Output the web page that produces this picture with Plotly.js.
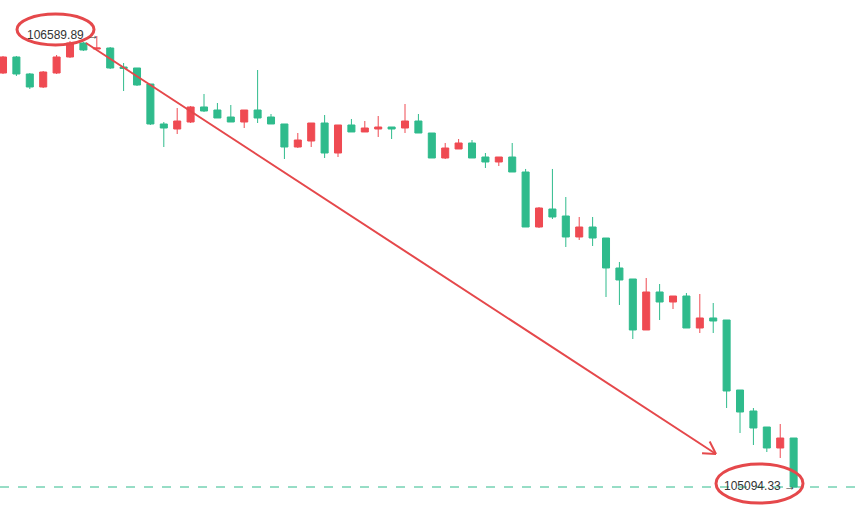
<!DOCTYPE html>
<html>
<head>
<meta charset="utf-8">
<script src="https://cdn.plot.ly/plotly-3.0.1.min.js"></script>
<style>html,body{margin:0;padding:0;background:#fff;}#chart{width:857px;height:511px;}</style>
</head>
<body>
<div id="chart"></div>
<script>
// Candle index (time order)
const idx = Array.from({length: 60}, (_, i) => i);

const openP = [
  106467.2,106520.3,106463.9,106420.8,106467.2,106520.3,106566.7,106546.8,106550.1,106487.1,
  106483.8,106430.7,106298.1,106281.5,106304.7,106354.5,106344.5,106321.3,106304.7,106344.5,
  106321.3,106298.1,106221.8,106241.7,106301.4,106201.9,106294.8,106271.6,106281.5,106288.1,
  106284.8,106308.0,106268.2,106185.3,106215.2,106235.1,106188.6,106172.1,106188.6,106138.9,
  105956.5,106016.2,105993.0,105923.4,105956.5,105920.0,105820.6,105784.1,105615.0,105741.0,
  105707.8,105727.7,105621.6,105654.8,105648.1,105416.0,105346.4,105293.3,105223.7,105256.8
];
const highP = [
  106523.6,106523.6,106467.2,106473.8,106526.9,106573.3,106570.0,106589.89,106553.4,106500.4,
  106483.8,106430.7,106304.7,106351.1,106357.8,106397.6,106367.7,106361.1,106344.5,106477.1,
  106331.2,106298.1,106268.2,106301.4,106327.9,106294.8,106314.7,106308.0,106324.6,106288.1,
  106364.4,106331.2,106268.2,106235.1,106248.3,106245.0,106201.9,106188.6,106235.1,106148.9,
  106022.8,106148.9,106056.0,105989.7,105989.7,105920.0,105840.5,105784.1,105787.4,105767.5,
  105727.7,105737.7,105734.3,105704.5,105648.1,105416.0,105356.3,105293.3,105303.2,105256.8
];
const lowP = [
  106463.9,106457.3,106414.1,106417.5,106463.9,106517.0,106540.2,106546.8,106480.5,106407.5,
  106424.1,106294.8,106221.8,106264.9,106301.4,106337.9,106318.0,106304.7,106284.8,106301.4,
  106298.1,106182.0,106218.5,106221.8,106185.3,106188.6,106271.6,106271.6,106255.0,106248.3,
  106268.2,106268.2,106185.3,106182.0,106215.2,106185.3,106152.2,106158.8,106138.9,105956.5,
  105953.2,105983.0,105890.2,105913.4,105893.5,105724.4,105697.9,105585.1,105615.0,105648.1,
  105684.6,105621.6,105605.0,105605.0,105356.3,105273.4,105233.6,105210.4,105190.5,105094.33
];
const closeP = [
  106520.3,106463.9,106420.8,106470.5,106520.3,106566.7,106543.5,106550.1,106483.8,106482.1,
  106427.4,106298.1,106284.8,106308.0,106354.5,106341.2,106318.0,106304.7,106344.5,106318.0,
  106298.1,106221.8,106245.0,106301.4,106201.9,106294.8,106271.6,106284.8,106288.1,106281.5,
  106308.0,106268.2,106185.3,106218.5,106235.1,106185.3,106172.1,106188.6,106138.9,105956.5,
  106019.5,105989.7,105923.4,105956.5,105920.0,105820.6,105780.8,105615.0,105741.0,105707.8,
  105727.7,105621.6,105654.8,105644.8,105412.7,105343.0,105290.0,105223.7,105256.8,105094.33
];

const highLabel = "106589.89";
const lastLabel = "105094.33";
const lastClose = 105094.33;

const W = 857, H = 511;
const UP = '#ef4a52', DOWN = '#2fbb8c', MARK = '#e5484b';
const px = x => x / W;
const py = y => 1 - y / H;

// open V arrow head from (x0,y0) to (x1,y1) in pixel space
function arrowShapes(x0, y0, x1, y1) {
  const dx = x1 - x0, dy = y1 - y0, L = Math.hypot(dx, dy);
  const ux = -dx / L, uy = -dy / L, a = Math.PI / 6, len = 14;
  const out = [{type:'line', xref:'paper', yref:'paper', x0:px(x0), y0:py(y0), x1:px(x1), y1:py(y1), line:{color:MARK, width:2}}];
  [a, -a].forEach(t => {
    const rx = ux * Math.cos(t) - uy * Math.sin(t);
    const ry = ux * Math.sin(t) + uy * Math.cos(t);
    out.push({type:'line', xref:'paper', yref:'paper', x0:px(x1), y0:py(y1), x1:px(x1 + rx*len), y1:py(y1 + ry*len), line:{color:MARK, width:2}});
  });
  return out;
}

const trace = {
  type: 'candlestick',
  x: idx, open: openP, high: highP, low: lowP, close: closeP,
  increasing: {line: {color: UP, width: 1}, fillcolor: UP},
  decreasing: {line: {color: DOWN, width: 1}, fillcolor: DOWN},
  whiskerwidth: 0,
  hoverinfo: 'none'
};

const shapes = [
  {type:'line', xref:'paper', yref:'y', x0:0, x1:1, y0:lastClose, y1:lastClose, line:{color:DOWN, width:1, dash:'dash'}},
  {type:'circle', xref:'paper', yref:'paper', x0:px(17), x1:px(94), y0:py(14), y1:py(45), line:{color:MARK, width:3}},
  {type:'circle', xref:'paper', yref:'paper', x0:px(716), x1:px(803), y0:py(464), y1:py(503), line:{color:MARK, width:3}}
].concat(arrowShapes(86, 43, 716, 454));

const layout = {
  width: W, height: H,
  margin: {l:0, r:0, t:0, b:0},
  paper_bgcolor: '#fff', plot_bgcolor: '#fff',
  showlegend: false,
  boxgap: 0.25,
  xaxis: {range: [-0.224, 63.73], showgrid:false, zeroline:false, showticklabels:false, showline:false, rangeslider:{visible:false}, fixedrange:true},
  yaxis: {range: [105014.74, 106709.27], showgrid:false, zeroline:false, showticklabels:false, showline:false, fixedrange:true},
  shapes: shapes,
  annotations: [
    {xref:'paper', yref:'paper', x:px(25), y:py(35), xanchor:'left', yanchor:'middle', showarrow:false,
     text: highLabel + ' →', font:{family:'Liberation Sans, Arial, sans-serif', size:12, color:'#333'}},
    {xref:'paper', yref:'paper', x:px(722), y:py(486), xanchor:'left', yanchor:'middle', showarrow:false,
     text: lastLabel + ' →', font:{family:'Liberation Sans, Arial, sans-serif', size:12, color:'#333'}}
  ]
};

Plotly.newPlot('chart', [trace], layout, {displayModeBar:false, staticPlot:true});
</script>
</body>
</html>
